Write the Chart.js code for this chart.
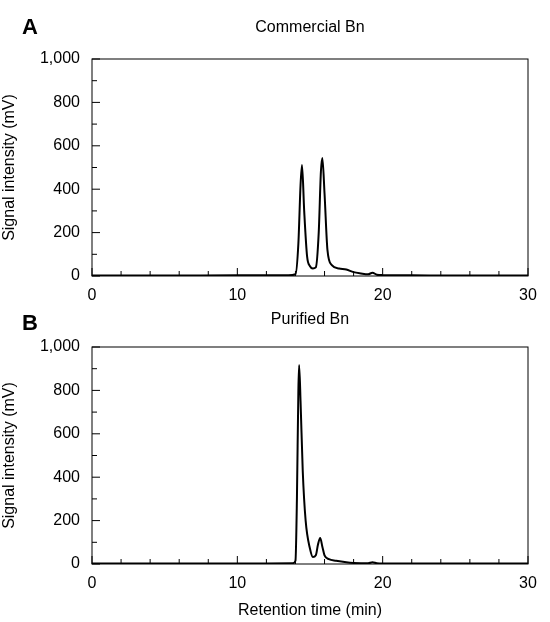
<!DOCTYPE html>
<html>
<head>
<meta charset="utf-8">
<script src="https://cdn.jsdelivr.net/npm/chart.js@4"></script>
<style>
body { margin: 0; background: #fff; font-family: Arial, "Liberation Sans", sans-serif; }
.panel { position: absolute; left: 0; width: 550px; }
.lbl { position: absolute; font-weight: bold; font-size: 22px; left: 22px; }
.ttl { position: absolute; font-size: 16px; width: 436px; left: 92px; text-align: center; }
</style>
</head>
<body>
<div class="panel" style="top:0;height:300px"><canvas id="chartA"></canvas></div>
<div class="panel" style="top:290px;height:332px"><canvas id="chartB"></canvas></div>
<div class="lbl" style="top:14px">A</div>
<div class="ttl" style="top:18px">Commercial Bn</div>
<div class="lbl" style="top:310px">B</div>
<div class="ttl" style="top:310px">Purified Bn</div>
<script>
var timeA = [0, 5, 10, 13.5, 14.0, 14.2, 14.35, 14.45, 14.6, 14.8, 15.0, 15.2, 15.4, 15.6, 15.75, 15.85, 16.0, 16.2, 16.5, 17, 17.5, 18, 18.5, 19, 19.3, 19.6, 20, 22, 25, 30];
var signalA = [2, 2, 3, 3, 8, 150, 420, 511, 300, 90, 45, 35, 40, 200, 480, 544, 380, 120, 50, 35, 30, 18, 12, 8, 15, 6, 4, 3, 2, 2];
var timeB = [0, 5, 10, 13.8, 14.0, 14.1, 14.2, 14.25, 14.35, 14.5, 14.7, 15.0, 15.2, 15.4, 15.55, 15.7, 15.85, 16.0, 16.3, 16.8, 17.5, 18, 19, 19.3, 19.6, 20, 25, 30];
var signalB = [2, 2, 2, 3, 15, 300, 800, 917, 750, 430, 200, 70, 32, 40, 90, 120, 80, 40, 22, 15, 8, 5, 3, 8, 3, 2, 2, 2];
var xTicks = [0, 10, 20, 30];
var yTicks = [0, 200, 400, 600, 800, 1000];

// ticks pointing into the plot, minor every 2 min / 100 mV
var innerTicks = {
    id: 'innerTicks',
    afterDraw: function (chart) {
        var ctx = chart.ctx, a = chart.chartArea;
        var x = chart.scales.x, y = chart.scales.y;
        ctx.save();
        ctx.strokeStyle = '#000';
        ctx.lineWidth = 1;
        ctx.beginPath();
        for (var t = 0; t <= 30; t += 2) {
            var px = x.getPixelForValue(t);
            var len = t % 10 === 0 ? 8 : 5;
            ctx.moveTo(px, a.bottom); ctx.lineTo(px, a.bottom - len);
        }
        for (var v = 0; v <= 1000; v += 100) {
            var py = y.getPixelForValue(v);
            var l2 = v % 200 === 0 ? 8 : 5;
            ctx.moveTo(a.left, py); ctx.lineTo(a.left + l2, py);
        }
        ctx.strokeRect(a.left, a.top, a.right - a.left, a.bottom - a.top);
        ctx.stroke();
        ctx.restore();
    }
};

function makeChart(id, times, values, axisHeight, showTitle) {
    var pts = times.map(function (t, i) { return { x: t, y: values[i] }; });
    new Chart(document.getElementById(id), {
        type: 'line',
        data: { datasets: [{ data: pts, borderColor: '#000', borderWidth: 2, pointRadius: 0, tension: 0.3, cubicInterpolationMode: 'monotone' }] },
        options: {
            responsive: true,
            maintainAspectRatio: false,
            animation: false,
            layout: { padding: { top: showTitle ? 57 : 59, right: 22 } },
            plugins: { legend: { display: false }, tooltip: { enabled: false } },
            scales: {
                x: {
                    type: 'linear', min: 0, max: 30,
                    afterBuildTicks: function (s) { s.ticks = xTicks.map(function (v) { return { value: v }; }); },
                    afterFit: function (s) { s.height = axisHeight; },
                    grid: { display: false },
                    border: { display: false },
                    ticks: { color: '#000', font: { size: 16 }, padding: 2 },
                    title: { display: showTitle, text: 'Retention time (min)', color: '#000', font: { size: 16 }, padding: 2 }
                },
                y: {
                    min: 0, max: 1000,
                    afterBuildTicks: function (s) { s.ticks = yTicks.map(function (v) { return { value: v }; }); },
                    afterFit: function (s) { s.width = 92; },
                    grid: { display: false },
                    border: { display: false },
                    ticks: { color: '#000', font: { size: 16 }, padding: 4 },
                    title: { display: true, text: 'Signal intensity (mV)', color: '#000', font: { size: 16 }, padding: 0 }
                }
            }
        },
        plugins: [innerTicks]
    });
}

Chart.defaults.font.family = 'Arial, "Liberation Sans", sans-serif';
makeChart('chartA', timeA, signalA, 24, false);
makeChart('chartB', timeB, signalB, 58, true);
</script>
</body>
</html>
